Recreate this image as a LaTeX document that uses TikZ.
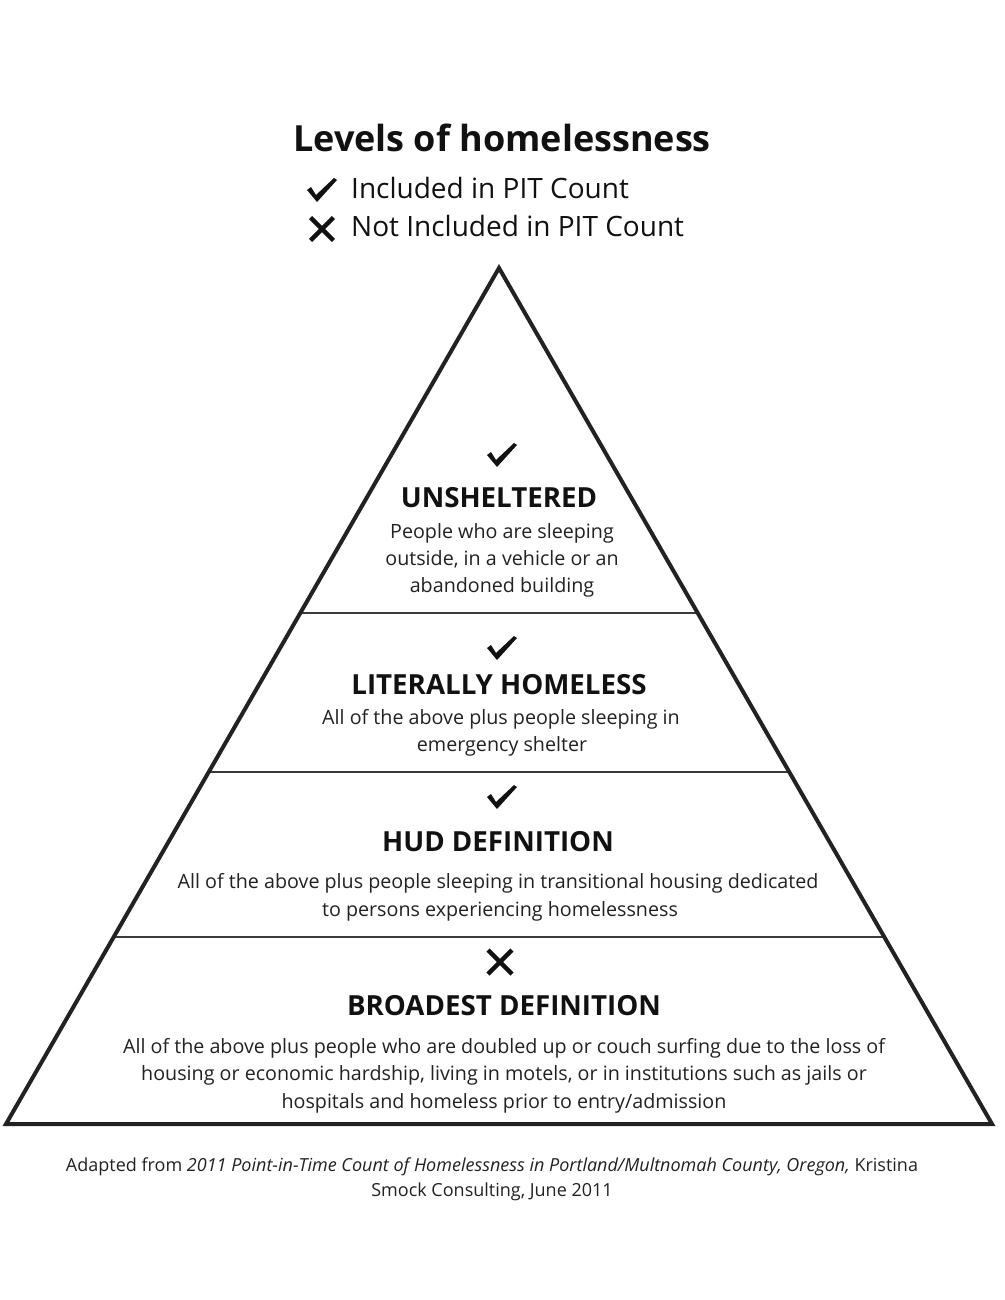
\documentclass[tikz,border=0pt]{standalone}
\usepackage{fontspec}
\setmainfont{Open Sans}
\definecolor{ink}{HTML}{111111}
\definecolor{bodyc}{HTML}{222222}
\definecolor{edge}{HTML}{222222}
\definecolor{divc}{HTML}{3A3A3A}
\tikzset{
  txt/.style={inner sep=0pt, anchor=base, text=bodyc},
  ttl/.style={txt, text=ink, font=\fontsize{36}{40}\selectfont\bfseries},
  leg/.style={inner sep=0pt, anchor=base west, text=ink, font=\fontsize{28}{32}\selectfont},
  head/.style={txt, text=ink, font=\fontsize{27.7}{30}\selectfont\bfseries},
  bod/.style={txt, font=\fontsize{19.7}{24}\selectfont},
  foot/.style={txt, text=bodyc, font=\fontsize{18}{20}\selectfont},
  pics/checkmk/.style={code={
    \fill[ink] (-15,0) -- (-11,-3) -- (-6,5) -- (12,-12) -- (15,-10) -- (-5,12) -- cycle;}},
  pics/crossmk/.style={code={
    \draw[ink, line width=4.5pt] (-12,-12) -- (12,12) (-12,12) -- (12,-12);}},
}
\begin{document}
\begin{tikzpicture}[x=1pt,y=-1pt]
\useasboundingbox[fill=white] (0,0) rectangle (1004,1300);
% title and legend
\node[ttl] (title) at (502,152) {Levels of homelessness};
\pic at (322,190) {checkmk};
\pic[scale=0.95] at (322,229) {crossmk};
\node[leg] (leg1) at (351,198) {Included in PIT Count};
\node[leg] (leg2) at (351,236) {Not Included in PIT Count};
% pyramid
\coordinate (apex) at (499,268);
\coordinate (bl) at (6,1124);
\coordinate (br) at (992,1124);
\draw[divc, line width=2.2pt] (300,613) -- (698,613);
\draw[divc, line width=2.2pt] (209,772) -- (789,772);
\draw[divc, line width=2.2pt] (114,937) -- (884,937);
\draw[edge, line width=4pt, line join=miter] (apex) -- (br) -- (bl) -- cycle;
% level 1
\pic at (502,455) {checkmk};
\node[head] (h1) at (499,507) {UNSHELTERED};
\node[bod] (b1a) at (502,538) {People who are sleeping};
\node[bod] (b1b) at (502,565) {outside, in a vehicle or an};
\node[bod] (b1c) at (502,592) {abandoned building};
% level 2
\pic at (502,648) {checkmk};
\node[head] (h2) at (499,694) {LITERALLY HOMELESS};
\node[bod] (b2a) at (501,724) {All of the above plus people sleeping in};
\node[bod] (b2b) at (502,751) {emergency shelter};
% level 3
\pic at (502,797) {checkmk};
\node[head] (h3) at (498,851) {HUD DEFINITION};
\node[bod] (b3a) at (498,888) {All of the above plus people sleeping in transitional housing dedicated};
\node[bod] (b3b) at (500,916) {to persons experiencing homelessness};
% level 4
\pic at (500,962) {crossmk};
\node[head] (h4) at (504,1015) {BROADEST DEFINITION};
\node[bod] (b4a) at (504,1053) {All of the above plus people who are doubled up or couch surfing due to the loss of};
\node[bod] (b4b) at (504,1080) {housing or economic hardship, living in motels, or in institutions such as jails or};
\node[bod] (b4c) at (504,1108) {hospitals and homeless prior to entry/admission};
% footer
\node[foot] (f1) at (492,1171) {Adapted from \textit{2011 Point-in-Time Count of Homelessness in Portland/Multnomah County, Oregon,} Kristina};
\node[foot] (f2) at (492,1196) {Smock Consulting, June 2011};
\end{tikzpicture}
\end{document}
